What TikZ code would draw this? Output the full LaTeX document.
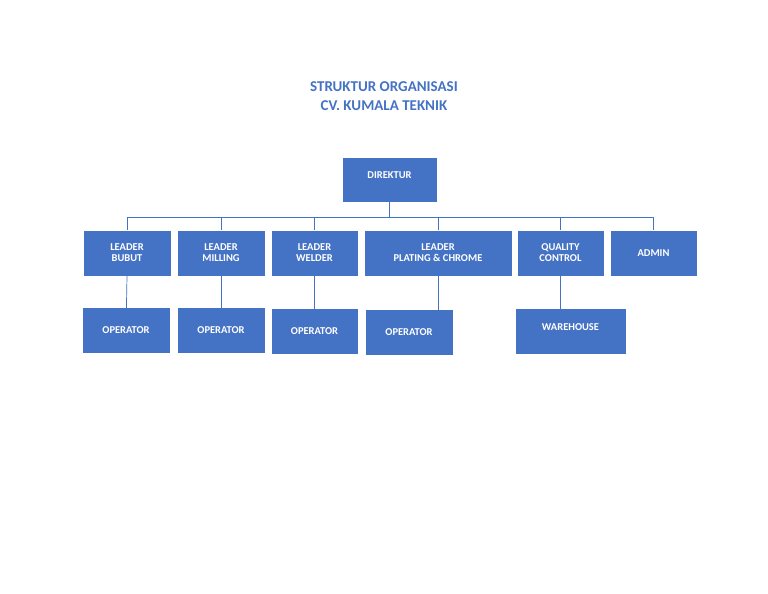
\documentclass[tikz,border=0pt]{standalone}
\usepackage{fontspec}
\setmainfont{Carlito}
\begin{document}
\begin{tikzpicture}[x=1pt,y=-1pt,
  bx/.style={fill=blue1,draw=white,line width=0.6pt,text=white,font=\bfseries\fontsize{10.5}{11}\selectfont,align=center,inner sep=0pt},
  ln/.style={draw=blue1,line width=0.7pt}]
\definecolor{blue1}{HTML}{4472C4}
\useasboundingbox (0,0) rectangle (768,594);
\node[text=blue1,font=\bfseries\fontsize{15}{19}\selectfont,align=center] (t) at (384,96) {STRUKTUR ORGANISASI\\CV. KUMALA TEKNIK};
\newcommand\bxx[6]{\path[bx] (#2,#3) rectangle (#4,#5); \node[bx,fill=none,draw=none] (#1) at ({(#2+#4)/2},{(#3+#5)/2}) {#6};
  \coordinate (#1t) at ({(#2+#4)/2},#3); \coordinate (#1b) at ({(#2+#4)/2},#5);}
\bxx{d}{342}{157}{437}{202}{\raisebox{8pt}{DIREKTUR}}
\bxx{a}{83}{230}{171}{276}{LEADER\\BUBUT}
\bxx{b}{177}{230}{265}{276}{LEADER\\MILLING}
\bxx{c}{271}{230}{358}{276}{LEADER\\WELDER}
\bxx{e}{364}{230}{512}{276}{LEADER\\PLATING \& CHROME}
\bxx{f}{517}{230}{604}{276}{QUALITY\\CONTROL}
\bxx{g}{610}{230}{697}{276}{ADMIN}
\bxx{oa}{82}{307}{170}{353}{OPERATOR}
\bxx{ob}{177}{307}{265}{353}{OPERATOR}
\bxx{oc}{271}{308}{358}{354}{OPERATOR}
\bxx{oe}{365}{309}{453}{355}{OPERATOR}
\bxx{of}{515}{308}{626}{354}{\raisebox{8pt}{WAREHOUSE}}
\coordinate (bus) at (0,217);
\draw[ln] (db) -- (d |- bus);
\draw[ln] (at |- bus) -- (gt |- bus);
\foreach \n in {a,b,c,e,f,g} \draw[ln] (\n t |- bus) -- (\n t);
\draw[ln] (ab) -- (oa); \draw[ln] (bb) -- (ob); \draw[ln] (cb) -- (oc);
\draw[ln] (eb) -- (oe.north -| eb); \draw[ln] (fb) -- (of.north -| fb);
\end{tikzpicture}
\end{document}
